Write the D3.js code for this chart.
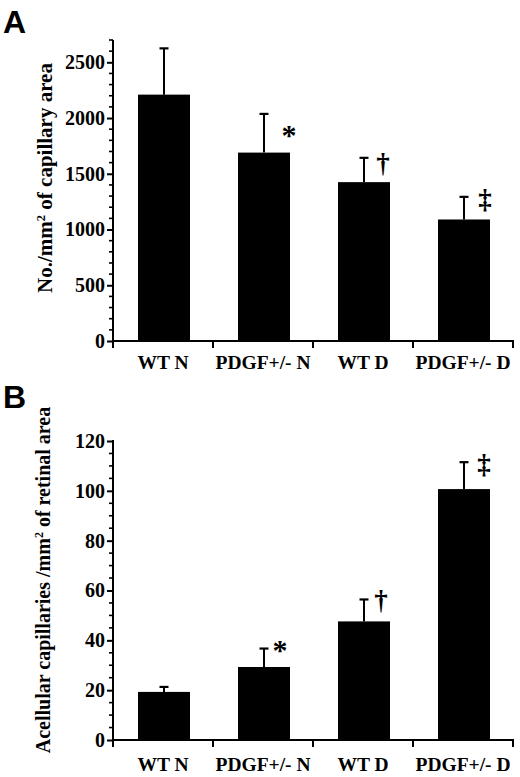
<!DOCTYPE html>
<html>
<head>
<meta charset="utf-8">
<script src="https://cdn.jsdelivr.net/npm/d3@7"></script>
<style>
  html, body { margin: 0; padding: 0; background: #fff; }
  svg { display: block; }
  text { font-family: "Liberation Serif", "Times New Roman", serif; font-weight: bold; fill: #000; }
  .panel-label { font-family: "Liberation Sans", Arial, sans-serif; font-weight: bold; }
</style>
</head>
<body>
<svg id="chart" width="520" height="777"></svg>
<script>
// ---------- data ----------
const categories = ["WT N", "PDGF+/- N", "WT D", "PDGF+/- D"];

// Panel A: No./mm² of capillary area
const valuesA = [2210, 1690, 1425, 1090];
const errorTopA = [2625, 2037, 1643, 1293];
const symbolsA = ["", "*", "†", "‡"];
const symbolValueA = [null, 1760, 1520, 1190];
const ticksA = [0, 500, 1000, 1500, 2000, 2500];
const minorStepA = 100;
const domainMaxA = 2700;

// Panel B: Acellular capillaries /mm² of retinal area
const valuesB = [19.3, 29.3, 47.6, 100.7];
const errorTopB = [21.3, 36.7, 56.4, 111.5];
const symbolsB = ["", "*", "†", "‡"];
const symbolValueB = [null, 32, 52.5, 107];
const ticksB = [0, 20, 40, 60, 80, 100, 120];
const minorStepB = 5;
const domainMaxB = 120;

const svg = d3.select("#chart");

function drawPanel(cfg) {
  const g = svg.append("g");
  const x = d3.scaleBand().domain(categories).range([113, 513])
    .paddingInner(0.48).paddingOuter(0.24);
  const y = d3.scaleLinear().domain([0, cfg.max]).range([cfg.y0, cfg.y1]);

  // bars
  g.selectAll("rect.bar").data(categories).join("rect")
    .attr("class", "bar")
    .attr("x", d => x(d) + 1)
    .attr("width", x.bandwidth())
    .attr("y", (d, i) => y(cfg.values[i]))
    .attr("height", (d, i) => y(0) - y(cfg.values[i]))
    .attr("fill", "#000");

  // error bars (upper only)
  const cx = d => x(d) + 1 + x.bandwidth() / 2;
  g.selectAll("line.err").data(categories).join("line")
    .attr("x1", cx).attr("x2", cx)
    .attr("y1", (d, i) => y(cfg.values[i]))
    .attr("y2", (d, i) => y(cfg.errs[i]))
    .attr("stroke", "#000").attr("stroke-width", 2);
  g.selectAll("line.cap").data(categories).join("line")
    .attr("x1", d => cx(d) - 4.5).attr("x2", d => cx(d) + 4.5)
    .attr("y1", (d, i) => y(cfg.errs[i]))
    .attr("y2", (d, i) => y(cfg.errs[i]))
    .attr("stroke", "#000").attr("stroke-width", 2.2);

  // significance symbols
  g.selectAll("text.sym").data(categories).join("text")
    .attr("class", "sym")
    .attr("x", (d, i) => cx(d) + cfg.symDx[i])
    .attr("y", (d, i) => cfg.symVals[i] == null ? 0 : y(cfg.symVals[i]))
    .attr("text-anchor", "middle")
    .attr("font-size", (d, i) => cfg.symbols[i] === "*" ? 30 : 27)
    .text((d, i) => cfg.symbols[i]);

  // y axis
  const yAxis = d3.axisLeft(y).tickValues(cfg.ticks).tickSize(6).tickPadding(2)
    .tickFormat(d3.format("d"));
  const ya = g.append("g").attr("transform", "translate(113,0)").call(yAxis);
  ya.select(".domain").attr("d", `M0,${y(0) + 7}V${cfg.yTop}`).attr("stroke-width", 2);
  ya.selectAll(".tick line").attr("stroke-width", 2);
  ya.selectAll(".tick text").attr("font-size", 20).attr("font-family", "Liberation Serif, serif")
    .attr("font-weight", "bold");
  // minor ticks
  const minors = d3.range(0, cfg.max + 0.001, cfg.minor).filter(v => !cfg.ticks.includes(v));
  g.selectAll("line.minor").data(minors).join("line")
    .attr("x1", 113).attr("x2", 109)
    .attr("y1", d => y(d)).attr("y2", d => y(d))
    .attr("stroke", "#000").attr("stroke-width", 1.6);

  // x axis
  g.append("line").attr("x1", 112).attr("x2", 514)
    .attr("y1", y(0)).attr("y2", y(0))
    .attr("stroke", "#000").attr("stroke-width", 2);
  const step = x.step();
  const bounds = d3.range(1, categories.length + 1).map(i => 113 + i * step);
  g.selectAll("line.xt").data(bounds).join("line")
    .attr("x1", d => d).attr("x2", d => d)
    .attr("y1", y(0)).attr("y2", y(0) + 7)
    .attr("stroke", "#000").attr("stroke-width", 2);
  g.selectAll("text.xl").data(categories).join("text")
    .attr("x", d => x(d) + x.bandwidth() / 2)
    .attr("y", cfg.labelY)
    .attr("text-anchor", "middle")
    .attr("font-size", 19.5)
    .text(d => d);

  // y title
  const t = g.append("text")
    .attr("transform", `translate(${cfg.titleX},${cfg.titleY}) rotate(-90)`)
    .attr("text-anchor", "middle")
    .attr("font-size", cfg.titleSize);
  t.append("tspan").text(cfg.titlePre);
  t.append("tspan").attr("font-size", cfg.titleSize * 0.6).attr("dy", -cfg.titleSize * 0.35).text("2");
  t.append("tspan").attr("dy", cfg.titleSize * 0.35).text(cfg.titlePost);

  // panel label
  svg.append("text").attr("class", "panel-label")
    .attr("x", 3).attr("y", cfg.panelY)
    .attr("font-size", 32)
    .text(cfg.panel);
}

drawPanel({
  panel: "A", panelY: 33,
  values: valuesA, errs: errorTopA, symbols: symbolsA, symVals: symbolValueA,
  symDx: [0, 25, 19, 21],
  ticks: ticksA, minor: minorStepA, max: domainMaxA,
  y0: 341, y1: 40, yTop: 40, labelY: 369,
  titleX: 52, titleY: 178, titleSize: 21,
  titlePre: "No./mm", titlePost: " of capillary area"
});

drawPanel({
  panel: "B", panelY: 408,
  values: valuesB, errs: errorTopB, symbols: symbolsB, symVals: symbolValueB,
  symDx: [0, 16, 17, 20],
  ticks: ticksB, minor: minorStepB, max: domainMaxB,
  y0: 740, y1: 441, yTop: 440, labelY: 771,
  titleX: 50, titleY: 580, titleSize: 20,
  titlePre: "Acellular capillaries /mm", titlePost: " of retinal area"
});
</script>
</body>
</html>
